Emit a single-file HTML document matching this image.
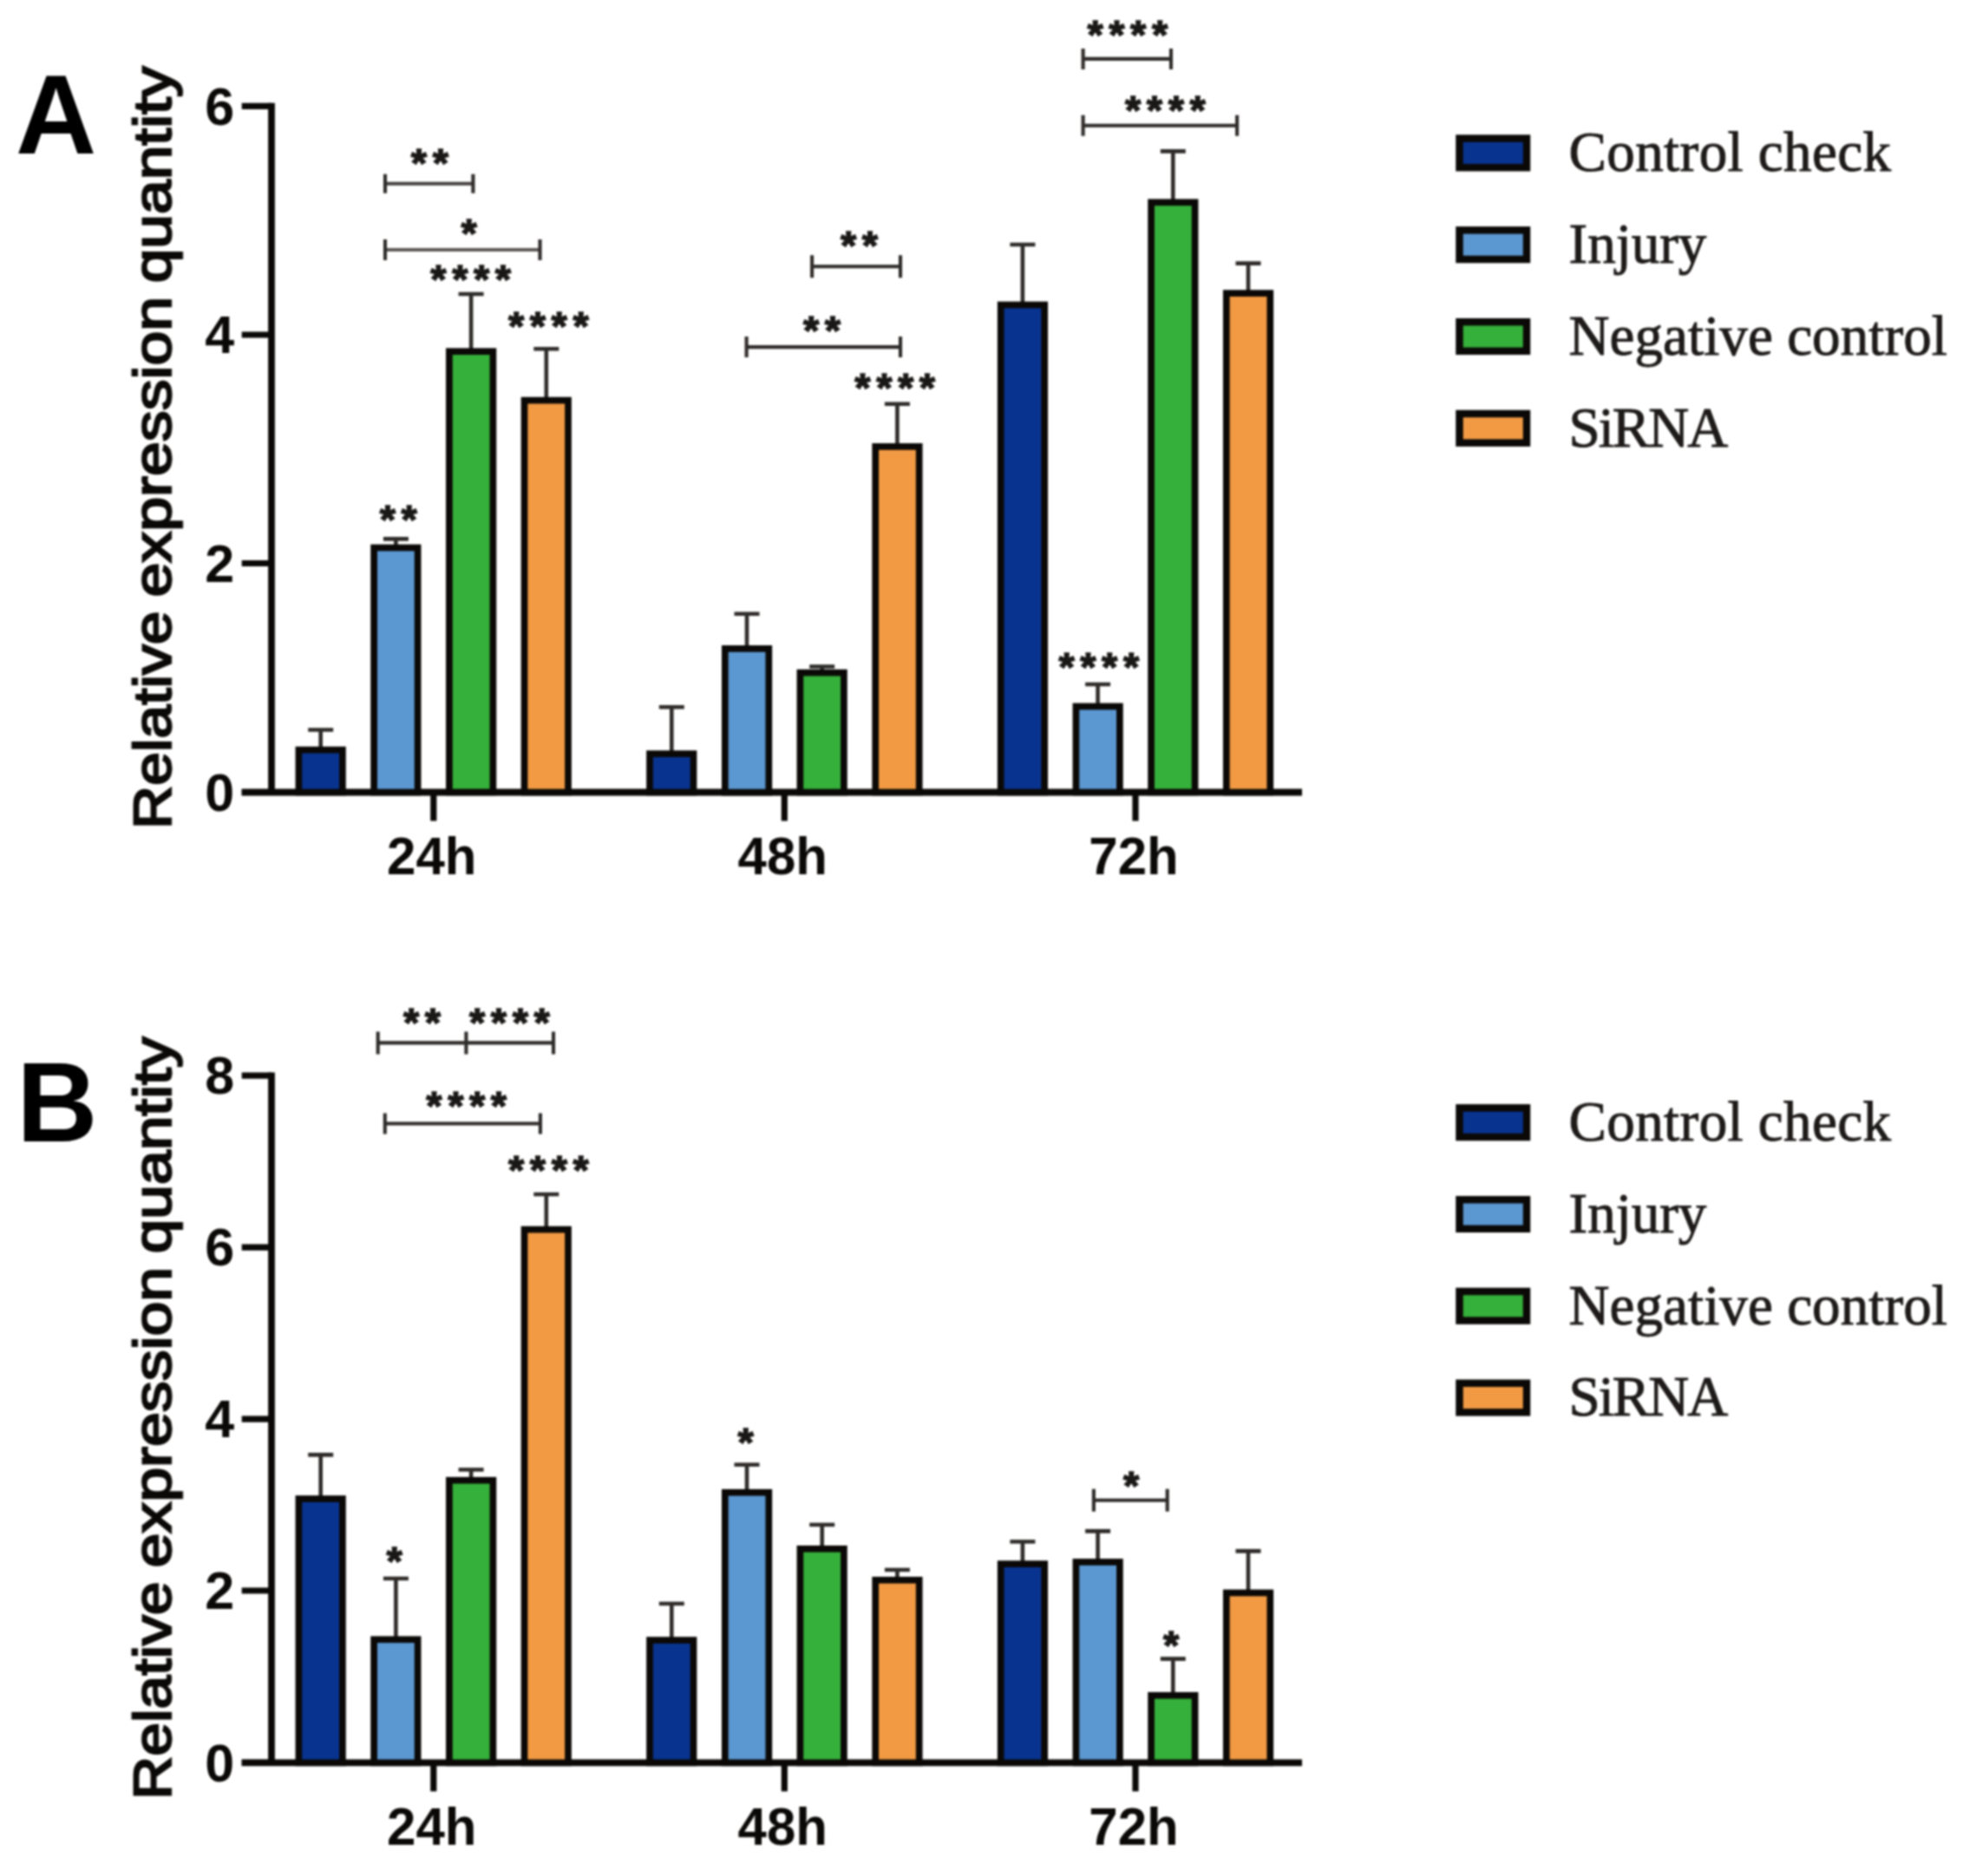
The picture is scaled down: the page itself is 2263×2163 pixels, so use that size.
<!DOCTYPE html>
<html><head><meta charset="utf-8"><title>Figure</title><style>
html,body{margin:0;padding:0;background:#fff}
svg{display:block}
.ax{stroke:#0b0907;stroke-width:7.8;fill:none}
.tk{stroke:#0b0907;stroke-width:7.2;fill:none}
.eb{stroke:#2e2b29;stroke-width:4.6;fill:none}
.br{stroke:#2e2b29;stroke-width:4.1;fill:none}
.bar{stroke:#0b0907;stroke-width:7.7}
.lg{stroke:#0b0907;stroke-width:8.5}
text{font-family:"Liberation Sans",Arial,sans-serif;fill:#1a1817}
.pl{font-weight:bold;font-size:129px;fill:#000}
.yt{font-weight:bold;font-size:61px;text-anchor:end;fill:#0b0907}
.xt{font-weight:bold;font-size:60px;text-anchor:middle;fill:#0b0907}
.yl{font-size:61.5px;fill:#0b0907;stroke:#0b0907;stroke-width:2.3}
.st{font-weight:bold;font-size:47px;letter-spacing:6.56px;stroke:#1a1817;stroke-width:1.4}
.lt{font-family:"Liberation Serif","Times New Roman",serif;font-size:65px;fill:#1d1a19;stroke:#1d1a19;stroke-width:1.0}
</style></head>
<body><svg width="2263" height="2163" viewBox="0 0 2263 2163">
<defs><filter id="soft" x="0" y="0" width="2263" height="2163" filterUnits="userSpaceOnUse" color-interpolation-filters="sRGB"><feGaussianBlur stdDeviation="1.25"/></filter></defs>
<rect width="2263" height="2163" fill="#fff"/>
<g filter="url(#soft)">
<text x="18.1" y="176.8" class="pl">A</text>
<text transform="translate(196.8 0) rotate(-90)" class="yl"><tspan x="-955.9" textLength="251.3" lengthAdjust="spacingAndGlyphs">Relative</tspan> <tspan x="-688.6" textLength="346.8" lengthAdjust="spacingAndGlyphs">expression</tspan> <tspan x="-326.3" textLength="249.8" lengthAdjust="spacingAndGlyphs">quantity</tspan></text>
<path d="M313 118.8V917.4M278.7 913.5H1501" class="ax"/>
<path d="M278.7 122.4H313" class="tk"/>
<text x="270.2" y="143.7" class="yt">6</text>
<path d="M278.7 386.0H313" class="tk"/>
<text x="270.2" y="407.3" class="yt">4</text>
<path d="M278.7 649.5H313" class="tk"/>
<text x="270.2" y="670.8" class="yt">2</text>
<path d="M278.7 913.5H313" class="tk"/>
<text x="270.2" y="934.8" class="yt">0</text>
<path d="M499.8 913.5V946.5" class="tk"/>
<text transform="translate(497.8 1008.3) scale(1 1.03)" class="xt">24h</text>
<path d="M904.3 913.5V946.5" class="tk"/>
<text transform="translate(902.3 1008.3) scale(1 1.03)" class="xt">48h</text>
<path d="M1309.0 913.5V946.5" class="tk"/>
<text transform="translate(1307.0 1008.3) scale(1 1.03)" class="xt">72h</text>
<path d="M369.7 862.7V841.5M355.2 841.5H384.2" class="eb"/>
<rect x="344.4" y="864.6" width="50.5" height="48.9" fill="#08338f" class="bar"/>
<path d="M456.4 629.6V621.4M441.9 621.4H470.9" class="eb"/>
<rect x="431.1" y="631.5" width="50.5" height="282.0" fill="#5b97d1" class="bar"/>
<path d="M543.1 403.4V339.0M528.6 339.0H557.6" class="eb"/>
<rect x="517.9" y="405.2" width="50.5" height="508.2" fill="#35b03a" class="bar"/>
<path d="M629.8 459.7V402.2M615.3 402.2H644.3" class="eb"/>
<rect x="604.5" y="461.6" width="50.5" height="451.9" fill="#f29a43" class="bar"/>
<path d="M774.3 867.2V815.2M759.8 815.2H788.8" class="eb"/>
<rect x="749.0" y="869.1" width="50.5" height="44.4" fill="#08338f" class="bar"/>
<path d="M861.0 746.0V707.8M846.5 707.8H875.5" class="eb"/>
<rect x="835.8" y="747.9" width="50.5" height="165.7" fill="#5b97d1" class="bar"/>
<path d="M947.7 773.7V768.5M933.2 768.5H962.2" class="eb"/>
<rect x="922.4" y="775.6" width="50.5" height="137.9" fill="#35b03a" class="bar"/>
<path d="M1034.4 513.0V465.8M1019.9 465.8H1048.9" class="eb"/>
<rect x="1009.2" y="514.9" width="50.5" height="398.6" fill="#f29a43" class="bar"/>
<path d="M1178.9 349.6V282.0M1164.4 282.0H1193.4" class="eb"/>
<rect x="1153.7" y="351.5" width="50.5" height="562.0" fill="#08338f" class="bar"/>
<path d="M1265.6 812.6V789.0M1251.1 789.0H1280.1" class="eb"/>
<rect x="1240.4" y="814.5" width="50.5" height="99.0" fill="#5b97d1" class="bar"/>
<path d="M1352.3 231.5V174.4M1337.8 174.4H1366.8" class="eb"/>
<rect x="1327.1" y="233.3" width="50.5" height="680.1" fill="#35b03a" class="bar"/>
<path d="M1439.0 336.2V303.6M1424.5 303.6H1453.5" class="eb"/>
<rect x="1413.8" y="338.1" width="50.5" height="575.4" fill="#f29a43" class="bar"/>
<path d="M444.0 211.8H545.4" class="br" style="stroke:#454140"/>
<path d="M444.0 200.8V222.8M545.4 200.8V222.8" class="br"/>
<text x="473.8" y="203.8" class="st">**</text>
<path d="M444.0 288.0H622.5" class="br" style="stroke:#5d5957"/>
<path d="M444.0 276.0V300.0M622.5 276.0V300.0" class="br"/>
<text x="531.5" y="284.7" class="st">*</text>
<text x="496.3" y="337.5" class="st">****</text>
<text x="585.9" y="392.4" class="st">****</text>
<text x="437.7" y="614.5" class="st">**</text>
<path d="M936.1 307.2H1038.0M936.1 294.2V320.2M1038.0 294.2V320.2" class="br"/>
<text x="968.9" y="299.4" class="st">**</text>
<path d="M860.6 400.1H1038.0M860.6 388.1V412.1M1038.0 388.1V412.1" class="br"/>
<text x="926.0" y="396.5" class="st">**</text>
<text x="985.3" y="463.0" class="st">****</text>
<text x="1220.4" y="784.7" class="st">****</text>
<path d="M1248.6 67.9H1350.0M1248.6 55.9V79.9M1350.0 55.9V79.9" class="br"/>
<text x="1253.4" y="55.9" class="st">****</text>
<path d="M1248.6 144.8H1426.1M1248.6 132.8V156.8M1426.1 132.8V156.8" class="br"/>
<text x="1297.0" y="143.0" class="st">****</text>
<text x="19.3" y="1316" class="pl">B</text>
<text transform="translate(196.8 0) rotate(-90)" class="yl"><tspan x="-2074.9" textLength="251.3" lengthAdjust="spacingAndGlyphs">Relative</tspan> <tspan x="-1807.6" textLength="346.8" lengthAdjust="spacingAndGlyphs">expression</tspan> <tspan x="-1445.3" textLength="249.8" lengthAdjust="spacingAndGlyphs">quantity</tspan></text>
<path d="M313 1236.5V2036.3M278.7 2032.4H1501" class="ax"/>
<path d="M278.7 1240.1H313" class="tk"/>
<text x="270.2" y="1261.4" class="yt">8</text>
<path d="M278.7 1438.1H313" class="tk"/>
<text x="270.2" y="1459.4" class="yt">6</text>
<path d="M278.7 1636.1H313" class="tk"/>
<text x="270.2" y="1657.4" class="yt">4</text>
<path d="M278.7 1834.0H313" class="tk"/>
<text x="270.2" y="1855.3" class="yt">2</text>
<path d="M278.7 2032.4H313" class="tk"/>
<text x="270.2" y="2053.7" class="yt">0</text>
<path d="M499.8 2032.4V2065.4" class="tk"/>
<text transform="translate(497.8 2127.2) scale(1 1.03)" class="xt">24h</text>
<path d="M904.3 2032.4V2065.4" class="tk"/>
<text transform="translate(902.3 2127.2) scale(1 1.03)" class="xt">48h</text>
<path d="M1309.0 2032.4V2065.4" class="tk"/>
<text transform="translate(1307.0 2127.2) scale(1 1.03)" class="xt">72h</text>
<path d="M369.7 1726.3V1677.4M355.2 1677.4H384.2" class="eb"/>
<rect x="344.4" y="1728.1" width="50.5" height="304.3" fill="#08338f" class="bar"/>
<path d="M456.4 1888.5V1820.0M441.9 1820.0H470.9" class="eb"/>
<rect x="431.1" y="1890.3" width="50.5" height="142.1" fill="#5b97d1" class="bar"/>
<path d="M543.1 1705.0V1694.5M528.6 1694.5H557.6" class="eb"/>
<rect x="517.9" y="1706.8" width="50.5" height="325.6" fill="#35b03a" class="bar"/>
<path d="M629.8 1415.8V1377.0M615.3 1377.0H644.3" class="eb"/>
<rect x="604.5" y="1417.6" width="50.5" height="614.8" fill="#f29a43" class="bar"/>
<path d="M774.3 1889.3V1849.0M759.8 1849.0H788.8" class="eb"/>
<rect x="749.0" y="1891.1" width="50.5" height="141.3" fill="#08338f" class="bar"/>
<path d="M861.0 1719.0V1688.8M846.5 1688.8H875.5" class="eb"/>
<rect x="835.8" y="1720.8" width="50.5" height="311.6" fill="#5b97d1" class="bar"/>
<path d="M947.7 1784.0V1758.0M933.2 1758.0H962.2" class="eb"/>
<rect x="922.4" y="1785.8" width="50.5" height="246.6" fill="#35b03a" class="bar"/>
<path d="M1034.4 1820.0V1810.0M1019.9 1810.0H1048.9" class="eb"/>
<rect x="1009.2" y="1821.8" width="50.5" height="210.6" fill="#f29a43" class="bar"/>
<path d="M1178.9 1801.4V1777.5M1164.4 1777.5H1193.4" class="eb"/>
<rect x="1153.7" y="1803.2" width="50.5" height="229.2" fill="#08338f" class="bar"/>
<path d="M1265.6 1799.2V1765.4M1251.1 1765.4H1280.1" class="eb"/>
<rect x="1240.4" y="1801.0" width="50.5" height="231.4" fill="#5b97d1" class="bar"/>
<path d="M1352.3 1953.0V1912.6M1337.8 1912.6H1366.8" class="eb"/>
<rect x="1327.1" y="1954.8" width="50.5" height="77.6" fill="#35b03a" class="bar"/>
<path d="M1439.0 1834.7V1788.4M1424.5 1788.4H1453.5" class="eb"/>
<rect x="1413.8" y="1836.5" width="50.5" height="195.9" fill="#f29a43" class="bar"/>
<path d="M435.7 1202.4H638.0M435.7 1189.4V1215.4M638.0 1189.4V1215.4M537.4 1189.4V1215.4" class="br"/>
<text x="465.0" y="1195.0" class="st">**</text>
<text x="541.0" y="1195.0" class="st">****</text>
<path d="M443.8 1295.5H622.9M443.8 1283.5V1307.5M622.9 1283.5V1307.5" class="br"/>
<text x="491.3" y="1290.9" class="st">****</text>
<text x="586.0" y="1364.8" class="st">****</text>
<text x="445.6" y="1815.5" class="st">*</text>
<text x="850.4" y="1679.4" class="st">*</text>
<path d="M1260.9 1729.7H1345.7M1260.9 1716.7V1742.7M1345.7 1716.7V1742.7" class="br"/>
<text x="1295.0" y="1729.4" class="st">*</text>
<text x="1341.0" y="1912.5" class="st">*</text>
<rect x="1682.5" y="159.6" width="77.5" height="33.6" fill="#08338f" class="lg"/>
<text x="1808.5" y="197.1" class="lt" style="letter-spacing:0.42px">Control check</text>
<rect x="1682.5" y="265.4" width="77.5" height="33.6" fill="#5b97d1" class="lg"/>
<text x="1808.5" y="302.9" class="lt" style="letter-spacing:0px">Injury</text>
<rect x="1682.5" y="371.2" width="77.5" height="33.6" fill="#35b03a" class="lg"/>
<text x="1808.5" y="408.7" class="lt" style="letter-spacing:0.09px">Negative control</text>
<rect x="1682.5" y="477.0" width="77.5" height="33.6" fill="#f29a43" class="lg"/>
<text x="1808.5" y="514.5" class="lt" style="letter-spacing:-1.95px">SiRNA</text>
<rect x="1682.5" y="1277.4" width="77.5" height="33.6" fill="#08338f" class="lg"/>
<text x="1808.5" y="1314.9" class="lt" style="letter-spacing:0.42px">Control check</text>
<rect x="1682.5" y="1383.2" width="77.5" height="33.6" fill="#5b97d1" class="lg"/>
<text x="1808.5" y="1420.7" class="lt" style="letter-spacing:0px">Injury</text>
<rect x="1682.5" y="1489.0" width="77.5" height="33.6" fill="#35b03a" class="lg"/>
<text x="1808.5" y="1526.5" class="lt" style="letter-spacing:0.09px">Negative control</text>
<rect x="1682.5" y="1594.8" width="77.5" height="33.6" fill="#f29a43" class="lg"/>
<text x="1808.5" y="1632.3" class="lt" style="letter-spacing:-1.95px">SiRNA</text>
</g>
</svg></body></html>
